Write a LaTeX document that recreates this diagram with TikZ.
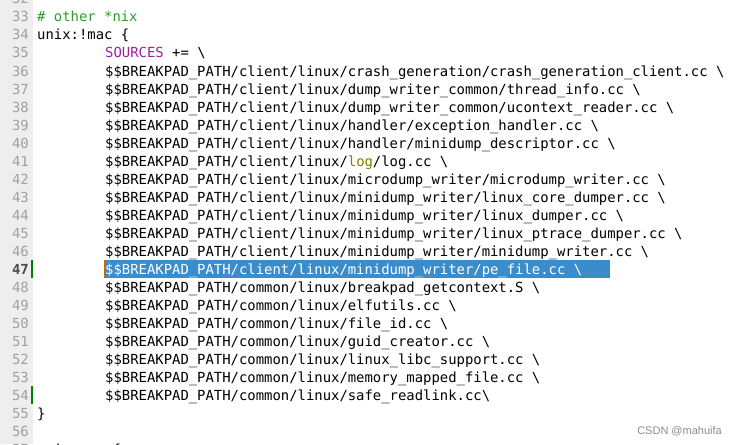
\documentclass[tikz,border=0pt]{standalone}
\usepackage{fontspec}
\setmonofont{DejaVu Sans Mono}
\setsansfont{Liberation Sans}
\definecolor{gutter}{HTML}{EEEEEE}
\definecolor{lnum}{HTML}{A0A0A0}
\definecolor{cmt}{HTML}{2E9E2E}
\definecolor{kw}{HTML}{A020A0}
\definecolor{olv}{HTML}{808000}
\definecolor{sel}{HTML}{3A8CCB}
\begin{document}
\begin{tikzpicture}[x=1pt,y=-1pt,
  code/.style={anchor=base west,inner sep=0pt,font=\ttfamily\fontsize{13.9}{16}\selectfont},
  num/.style={anchor=base east,inner sep=0pt,font=\ttfamily\fontsize{13.9}{16}\selectfont,text=lnum}]
\useasboundingbox (0,0) rectangle (730,444);
\clip (0,0) rectangle (730,444);
\fill[white] (0,0) rectangle (730,444);
\fill[gutter] (0,0) rectangle (33,444);
\fill[sel] (104,260) rectangle (610,278);
\fill[orange!80!black] (104,260) rectangle (106,278);
\fill[green!50!black] (31,260) rectangle (33,278);
\fill[green!50!black] (31,386) rectangle (33,404);
\foreach \n in {32,...,57}{
  \pgfmathtruncatemacro{\yy}{17+18*(\n-33)+5}
  \ifnum\n=47
    \node[num,text=black!70,font=\ttfamily\bfseries\fontsize{13.9}{16}\selectfont] (ln\n) at (29,\yy) {\n};
  \else
    \node[num] (ln\n) at (29,\yy) {\n};
  \fi
}
\def\L#1#2{\node[code] (c#1) at (105,{17+18*(#1-33)+5}) {#2};}
\node[code,text=cmt] (c33) at (37,22) {\# other *nix};
\node[code] (c34) at (37,40) {unix:!mac \{};
\node[code] (c35) at (105,58) {\textcolor{kw}{SOURCES} += \textbackslash};
\L{36}{\$\$BREAKPAD\_PATH/client/linux/crash\_generation/crash\_generation\_client.cc \textbackslash}
\L{37}{\$\$BREAKPAD\_PATH/client/linux/dump\_writer\_common/thread\_info.cc \textbackslash}
\L{38}{\$\$BREAKPAD\_PATH/client/linux/dump\_writer\_common/ucontext\_reader.cc \textbackslash}
\L{39}{\$\$BREAKPAD\_PATH/client/linux/handler/exception\_handler.cc \textbackslash}
\L{40}{\$\$BREAKPAD\_PATH/client/linux/handler/minidump\_descriptor.cc \textbackslash}
\L{41}{\$\$BREAKPAD\_PATH/client/linux/\textcolor{olv}{log}/log.cc \textbackslash}
\L{42}{\$\$BREAKPAD\_PATH/client/linux/microdump\_writer/microdump\_writer.cc \textbackslash}
\L{43}{\$\$BREAKPAD\_PATH/client/linux/minidump\_writer/linux\_core\_dumper.cc \textbackslash}
\L{44}{\$\$BREAKPAD\_PATH/client/linux/minidump\_writer/linux\_dumper.cc \textbackslash}
\L{45}{\$\$BREAKPAD\_PATH/client/linux/minidump\_writer/linux\_ptrace\_dumper.cc \textbackslash}
\L{46}{\$\$BREAKPAD\_PATH/client/linux/minidump\_writer/minidump\_writer.cc \textbackslash}
\node[code,text=white] (c47) at (105,274) {\$\$BREAKPAD\_PATH/client/linux/minidump\_writer/pe\_file.cc \textbackslash};
\L{48}{\$\$BREAKPAD\_PATH/common/linux/breakpad\_getcontext.S \textbackslash}
\L{49}{\$\$BREAKPAD\_PATH/common/linux/elfutils.cc \textbackslash}
\L{50}{\$\$BREAKPAD\_PATH/common/linux/file\_id.cc \textbackslash}
\L{51}{\$\$BREAKPAD\_PATH/common/linux/guid\_creator.cc \textbackslash}
\L{52}{\$\$BREAKPAD\_PATH/common/linux/linux\_libc\_support.cc \textbackslash}
\L{53}{\$\$BREAKPAD\_PATH/common/linux/memory\_mapped\_file.cc \textbackslash}
\L{54}{\$\$BREAKPAD\_PATH/common/linux/safe\_readlink.cc\textbackslash}
\node[code] (c55) at (37,418) {\}};
\node[code] (c57) at (37,454) {unix:mac \{};
\node[anchor=base east,inner sep=0pt,font=\sffamily\fontsize{11}{13}\selectfont,text=black!45] (wm) at (722,434) {CSDN @mahuifa};
\end{tikzpicture}
\end{document}
